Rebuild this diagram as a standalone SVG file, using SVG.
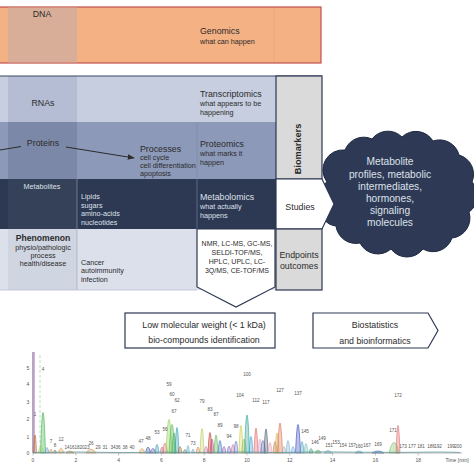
<svg xmlns="http://www.w3.org/2000/svg" width="474" height="474" viewBox="0 0 474 474">
<defs>
<style>
text{font-family:"Liberation Sans",Arial,sans-serif;fill:#2b2b2b}
.h{font-size:8.8px}
.s{font-size:7.2px}
.b{font-weight:bold}
.lt{fill:#dde1ea}
.m{text-anchor:middle}
.box{stroke:#2d3853;stroke-width:1.2}
.pk{stroke-width:0.6;fill-opacity:0.35}
.pl{font-size:4.6px;fill:#555;text-anchor:middle}
.ax{font-size:5px;fill:#555;text-anchor:middle}
</style>
<marker id="ah" viewBox="0 0 10 10" refX="9" refY="5" markerWidth="7" markerHeight="7" orient="auto" markerUnits="userSpaceOnUse">
<path d="M0,1 L10,5 L0,9 Z" fill="#2b2b2b"/>
</marker>
</defs>
<rect width="474" height="474" fill="#ffffff"/>

<g id="genomics">
<rect x="-1" y="7" width="322" height="56" fill="#f4b183" stroke="#c0504d" stroke-width="1.2"/>
<rect x="8" y="7.6" width="69" height="54.8" fill="#d8ae99"/>
<line x1="274" y1="8" x2="274" y2="62" stroke="#eaa97f" stroke-width="1"/>
<text class="h m" x="42" y="17">DNA</text>
<text class="h" x="200" y="34">Genomics</text>
<text class="s" x="200" y="44">what can happen</text>
</g>

<g id="block">
<rect x="0" y="76" width="276" height="46" fill="#c6cee0"/>
<rect x="8" y="76" width="69" height="46" fill="#b4bdd3"/>
<rect x="0" y="122" width="276" height="57" fill="#8d99b9"/>
<rect x="8" y="122" width="69" height="57" fill="#7c88a8"/>
<rect x="0" y="179" width="276" height="50" fill="#2d3853"/>
<rect x="8" y="179" width="69" height="50" fill="#354059"/>
<rect x="0" y="229" width="276" height="61" fill="#dce0eb"/>
<rect x="8" y="229" width="69" height="61" fill="#d0d5e2"/>
<line x1="77" y1="179" x2="77" y2="290" stroke="#9aa3b8" stroke-width="0.6"/>
<line x1="197" y1="122" x2="197" y2="229" stroke="#7a86a6" stroke-width="0.6"/>
<line x1="0" y1="76" x2="322" y2="76" stroke="#3a4766" stroke-width="1.2"/>
<line x1="0" y1="290" x2="197" y2="290" stroke="#b8bfd0" stroke-width="0.8"/>
</g>

<g id="rnas">
<text class="h m" x="43" y="106">RNAs</text>
<text class="h" x="200" y="97">Transcriptomics</text>
<text class="s" x="200" y="106">what appears to be</text>
<text class="s" x="200" y="114.5">happening</text>
</g>

<g id="proteins">
<text class="h m" x="43" y="146">Proteins</text>
<text class="h" x="200" y="147">Proteomics</text>
<text class="s" x="200" y="156">what marks it</text>
<text class="s" x="200" y="164.5">happen</text>
</g>

<g id="processes">
<text class="h" x="140" y="151.5">Processes</text>
<text class="s" x="140" y="160">cell cycle</text>
<text class="s" x="140" y="168">cell differentiation</text>
<text class="s" x="140" y="176">apoptosis</text>
</g>

<g id="metabolites">
<text class="s m lt" x="42" y="189">Metabolites</text>
<text class="s lt" x="81" y="199">Lipids</text>
<text class="s lt" x="81" y="207.5">sugars</text>
<text class="s lt" x="81" y="216">amino-acids</text>
<text class="s lt" x="81" y="224.5">nucleotides</text>
<text class="h lt" x="200" y="200">Metabolomics</text>
<text class="s lt" x="200" y="209">what actually</text>
<text class="s lt" x="200" y="217.5">happens</text>
</g>

<g id="phenomenon">
<text class="b m" x="43" y="241" font-size="8.6">Phenomenon</text>
<text class="s m" x="43" y="249.5">physio/pathologic</text>
<text class="s m" x="43" y="257.5">process</text>
<text class="s m" x="43" y="266">health/disease</text>
<text class="s" x="81" y="264.5">Cancer</text>
<text class="s" x="81" y="273">autoimmunity</text>
<text class="s" x="81" y="281.5">infection</text>
</g>

<g id="cloud">
<path d="M327,182 A20,20 0 0 1 345,150 A20,20 0 0 1 372,139 A20,20 0 0 1 402,137 A20,20 0 0 1 433,141 A20,20 0 0 1 459,155 A20,20 0 0 1 472,182 A20,20 0 0 1 469,212 A20,20 0 0 1 452,238 A20,20 0 0 1 423,249 A20,20 0 0 1 391,249 A20,20 0 0 1 360,243 A20,20 0 0 1 336,226 A16,16 0 0 1 322,205 A16,16 0 0 1 327,182 Z" fill="#2e3a55" stroke="#1e2840" stroke-width="1"/>
<text class="lt m" x="390" y="165" font-size="10.2">Metabolite</text>
<text class="lt m" x="390" y="177.5" font-size="10.2">profiles, metabolic</text>
<text class="lt m" x="390" y="189.5" font-size="10.2">intermediates,</text>
<text class="lt m" x="390" y="201.5" font-size="10.2">hormones,</text>
<text class="lt m" x="390" y="213.5" font-size="10.2">signaling</text>
<text class="lt m" x="390" y="225.5" font-size="10.2">molecules</text>
</g>

<g id="biomarkers">
<rect class="box" x="276" y="76" width="46" height="103" fill="#dadada"/>
<text class="b m" transform="translate(300.5,149) rotate(-90)" font-size="9.2">Biomarkers</text>
</g>

<g id="studies">
<polygon class="box" points="276,179 322,179 334,204 322,229 276,229" fill="#ffffff"/>
<text class="h m" x="300" y="210">Studies</text>
</g>

<g id="endpoints">
<rect class="box" x="276" y="229" width="46" height="61" fill="#dadada"/>
<text class="h m" x="299" y="258">Endpoints</text>
<text class="h m" x="299" y="269">outcomes</text>
</g>

<g id="techniques">
<polygon class="box" points="197,229 275,229 275,287 236,307 197,287" fill="#ffffff"/>
<text class="m" x="237" y="245.5" font-size="7">NMR, LC-MS, GC-MS,</text>
<text class="m" x="237" y="254.5" font-size="7">SELDI-TOF/MS,</text>
<text class="m" x="237" y="263.5" font-size="7">HPLC, UPLC, LC-</text>
<text class="m" x="237" y="272.5" font-size="7">3Q/MS, CE-TOF/MS</text>
</g>

<g id="identification">
<rect class="box" x="125" y="313" width="150" height="35" fill="#ffffff"/>
<text class="h m" x="204" y="328">Low molecular weight (&lt; 1 kDa)</text>
<text class="h m" x="204" y="343">bio-compounds identification</text>
</g>

<g id="biostatistics">
<polygon class="box" points="313,313 428,313 438,330.5 428,348 313,348" fill="#ffffff"/>
<text class="h m" x="375" y="328">Biostatistics</text>
<text class="h m" x="375" y="344">and bioinformatics</text>
</g>

<g id="connectors">
<line x1="0" y1="150" x2="21" y2="146.5" stroke="#2b2b2b" stroke-width="1"/>
<line x1="66" y1="147" x2="134" y2="158" stroke="#2b2b2b" stroke-width="1" marker-end="url(#ah)"/>
</g>

<g id="chromatogram">
<rect x="32" y="352" width="3" height="101" fill="#c7a3d3" opacity="0.85"/>
<line x1="40" y1="355" x2="40" y2="453" stroke="#9bd49b" stroke-width="0.7" stroke-dasharray="3 2"/>
<g class="pk">
<path d="M33.5,453 Q35,417 36.5,453Z" fill="#b8642a" stroke="#b8642a"/>
<path d="M40.5,453 Q43,372 45.5,453Z" fill="#3fae49" stroke="#3fae49"/>
<path d="M38,453 Q41,440 44,453Z" fill="#9fd47a" stroke="#9fd47a"/>
<path d="M45,453 Q47,442 49,453Z" fill="#6aa0d8" stroke="#6aa0d8"/>
<path d="M49.5,453 Q51,445 52.5,453Z" fill="#e0a050" stroke="#e0a050"/>
<path d="M53.5,453 Q55,447 56.5,453Z" fill="#7a7a7a" stroke="#7a7a7a"/>
<path d="M58,453 Q61,443 64,453Z" fill="#e3a35c" stroke="#e3a35c"/>
<path d="M66,453 Q70,449 74,453Z" fill="#d48a4a" stroke="#d48a4a"/>
<path d="M86,453 Q91,445 96,453Z" fill="#e59a58" stroke="#e59a58"/>
<path d="M139,453 Q142,444 145,453Z" fill="#e0a050" stroke="#e0a050"/>
<path d="M145.5,453 Q148,441 150.5,453Z" fill="#3b5bb5" stroke="#3b5bb5"/>
<path d="M150,453 Q153,444 156,453Z" fill="#6a4db5" stroke="#6a4db5"/>
<path d="M155,453 Q157,436 159,453Z" fill="#3aa0b0" stroke="#3aa0b0"/>
<path d="M160,453 Q162,441 164,453Z" fill="#d06a8a" stroke="#d06a8a"/>
<path d="M162.5,453 Q165,433 167.5,453Z" fill="#e07070" stroke="#e07070"/>
<path d="M166,453 Q169,386 172,453Z" fill="#8fd14f" stroke="#8fd14f"/>
<path d="M169,453 Q172,396 175,453Z" fill="#58b85a" stroke="#58b85a"/>
<path d="M172,453 Q174,413 176,453Z" fill="#4caf50" stroke="#4caf50"/>
<path d="M175,453 Q177,402 179,453Z" fill="#2e9fb5" stroke="#2e9fb5"/>
<path d="M178,453 Q180,440 182,453Z" fill="#b07040" stroke="#b07040"/>
<path d="M183,453 Q185,446 187,453Z" fill="#777777" stroke="#777777"/>
<path d="M186.5,453 Q188,438 189.5,453Z" fill="#62b1c8" stroke="#62b1c8"/>
<path d="M191.5,453 Q193,445 194.5,453Z" fill="#88aabb" stroke="#88aabb"/>
<path d="M196,453 Q198,441 200,453Z" fill="#e08a60" stroke="#e08a60"/>
<path d="M200,453 Q202,404 204,453Z" fill="#c8d870" stroke="#b8c860"/>
<path d="M204,453 Q206,440 208,453Z" fill="#d080b0" stroke="#d080b0"/>
<path d="M208,453 Q210,412 212,453Z" fill="#c0392b" stroke="#c0392b"/>
<path d="M210,453 Q212,425 214,453Z" fill="#c05080" stroke="#c05080"/>
<path d="M214,453 Q216,417 218,453Z" fill="#5cb85c" stroke="#5cb85c"/>
<path d="M218,453 Q220,428 222,453Z" fill="#3a7ab8" stroke="#3a7ab8"/>
<path d="M222,453 Q224,440 226,453Z" fill="#9068c0" stroke="#9068c0"/>
<path d="M227,453 Q229,439 231,453Z" fill="#8070c8" stroke="#8070c8"/>
<path d="M231,453 Q233,436 235,453Z" fill="#d070a0" stroke="#d070a0"/>
<path d="M234,453 Q236,429 238,453Z" fill="#7080d0" stroke="#7080d0"/>
<path d="M239,453 Q241,398 243,453Z" fill="#d7d95c" stroke="#c7c94c"/>
<path d="M241.5,453 Q244,425 246.5,453Z" fill="#a0c060" stroke="#a0c060"/>
<path d="M244.5,453 Q247,377 249.5,453Z" fill="#2aa198" stroke="#2aa198"/>
<path d="M249,453 Q251,420 253,453Z" fill="#46a0d0" stroke="#46a0d0"/>
<path d="M254,453 Q256,403 258,453Z" fill="#e06666" stroke="#e06666"/>
<path d="M258,453 Q260,425 262,453Z" fill="#e0a0c0" stroke="#e0a0c0"/>
<path d="M260.5,453 Q263,428 265.5,453Z" fill="#6070c0" stroke="#6070c0"/>
<path d="M264,453 Q266,405 268,453Z" fill="#505866" stroke="#505866"/>
<path d="M268,453 Q270,432 272,453Z" fill="#e0a0b0" stroke="#e0a0b0"/>
<path d="M273,453 Q275,430 277,453Z" fill="#c08060" stroke="#c08060"/>
<path d="M275,453 Q277,413 279,453Z" fill="#e0b050" stroke="#e0b050"/>
<path d="M277.5,453 Q280,393 282.5,453Z" fill="#d9734f" stroke="#d9734f"/>
<path d="M282,453 Q284,440 286,453Z" fill="#b0b0b0" stroke="#b0b0b0"/>
<path d="M286,453 Q288,428 290,453Z" fill="#80b0d0" stroke="#80b0d0"/>
<path d="M291,453 Q293,440 295,453Z" fill="#70b0e0" stroke="#70b0e0"/>
<path d="M295.5,453 Q298,396 300.5,453Z" fill="#3b4cc0" stroke="#3b4cc0"/>
<path d="M300,453 Q302,430 304,453Z" fill="#50a0c0" stroke="#50a0c0"/>
<path d="M304,453 Q306,434 308,453Z" fill="#80c0c0" stroke="#80c0c0"/>
<path d="M309,453 Q311,444 313,453Z" fill="#40a070" stroke="#40a070"/>
<path d="M315,453 Q318,447 321,453Z" fill="#60b060" stroke="#60b060"/>
<path d="M324,453 Q328,448 332,453Z" fill="#70b0c0" stroke="#70b0c0"/>
<path d="M355,453 Q359,449 363,453Z" fill="#60a0c0" stroke="#60a0c0"/>
<path d="M372,453 Q378,449 384,453Z" fill="#3b5bb5" stroke="#3b5bb5"/>
<path d="M389,453 Q394,432 399,453Z" fill="#7ac060" stroke="#7ac060"/>
<path d="M396,453 Q398,398 400,453Z" fill="#e06a6a" stroke="#e06a6a"/>
</g>
<polyline points="33,452.5 80,452 120,452.6 160,452.2 200,452.4 240,452 280,452.5 320,451.8 360,452.2 400,452.4 440,452 460,452.4" fill="none" stroke="#5aa0a0" stroke-width="0.8"/>
<line x1="33" y1="352" x2="33" y2="453" stroke="#888" stroke-width="0.6"/>
<line x1="33" y1="453" x2="462" y2="453" stroke="#888" stroke-width="0.6"/>
<g stroke="#888" stroke-width="0.5">
<line x1="33" y1="453" x2="33" y2="455.5"/><line x1="75.8" y1="453" x2="75.8" y2="455.5"/><line x1="118.6" y1="453" x2="118.6" y2="455.5"/><line x1="161.4" y1="453" x2="161.4" y2="455.5"/><line x1="204.2" y1="453" x2="204.2" y2="455.5"/><line x1="247" y1="453" x2="247" y2="455.5"/><line x1="289.8" y1="453" x2="289.8" y2="455.5"/><line x1="332.6" y1="453" x2="332.6" y2="455.5"/><line x1="375.4" y1="453" x2="375.4" y2="455.5"/><line x1="418.2" y1="453" x2="418.2" y2="455.5"/>
</g>
<text class="ax" x="33" y="462">0</text><text class="ax" x="75.8" y="462">2</text><text class="ax" x="118.6" y="462">4</text><text class="ax" x="161.4" y="462">6</text><text class="ax" x="204.2" y="462">8</text><text class="ax" x="247" y="462">10</text><text class="ax" x="289.8" y="462">12</text><text class="ax" x="332.6" y="462">14</text><text class="ax" x="375.4" y="462">16</text><text class="ax" x="418.2" y="462">18</text>
<text class="ax" x="457" y="462">Time [min]</text>
<text class="ax" x="28" y="455">0</text><text class="ax" x="28" y="439">1</text><text class="ax" x="28" y="421">2</text><text class="ax" x="28" y="404">3</text><text class="ax" x="28" y="386">4</text><text class="ax" x="28" y="370">5</text>
<text class="pl" x="35" y="416">1</text><text class="pl" x="43" y="371">4</text><text class="pl" x="51" y="443">7</text><text class="pl" x="55" y="447">8</text><text class="pl" x="61" y="441">12</text>
<text class="pl" x="67" y="449">14</text><text class="pl" x="72" y="449">16</text><text class="pl" x="77" y="449">18</text><text class="pl" x="82" y="449">20</text><text class="pl" x="87" y="449">23</text><text class="pl" x="91" y="445">26</text>
<text class="pl" x="98" y="449">29</text><text class="pl" x="105" y="449">31</text><text class="pl" x="113" y="449">34</text><text class="pl" x="118" y="449">36</text><text class="pl" x="125" y="449">38</text><text class="pl" x="132" y="449">40</text>
<text class="pl" x="141" y="443">47</text><text class="pl" x="148" y="440">48</text><text class="pl" x="157" y="434">53</text><text class="pl" x="165" y="431">56</text>
<text class="pl" x="169" y="386">59</text><text class="pl" x="172" y="396">60</text><text class="pl" x="177" y="402">62</text><text class="pl" x="174" y="413">67</text><text class="pl" x="188" y="437">71</text><text class="pl" x="193" y="445">73</text>
<text class="pl" x="202" y="403">79</text><text class="pl" x="210" y="411">83</text><text class="pl" x="216" y="416">87</text><text class="pl" x="220" y="427">89</text><text class="pl" x="229" y="438">94</text><text class="pl" x="236" y="428">98</text>
<text class="pl" x="247" y="376">100</text><text class="pl" x="240" y="397">104</text><text class="pl" x="256" y="402">112</text><text class="pl" x="266" y="404">117</text><text class="pl" x="280" y="392">127</text><text class="pl" x="298" y="395">137</text>
<text class="pl" x="305" y="433">145</text><text class="pl" x="315" y="444">146</text><text class="pl" x="322" y="440">149</text><text class="pl" x="329" y="447">151</text><text class="pl" x="336" y="444">153</text><text class="pl" x="343" y="447">154</text>
<text class="pl" x="352" y="447">157</text><text class="pl" x="359" y="448">160</text><text class="pl" x="367" y="447">167</text><text class="pl" x="378" y="446">169</text><text class="pl" x="393" y="432">171</text><text class="pl" x="398" y="397">172</text>
<text class="pl" x="403" y="448">173</text><text class="pl" x="412" y="448">177</text><text class="pl" x="421" y="448">181</text><text class="pl" x="431" y="448">186</text><text class="pl" x="438" y="448">192</text><text class="pl" x="451" y="448">199</text><text class="pl" x="458" y="448">200</text>
</g>
</svg>
